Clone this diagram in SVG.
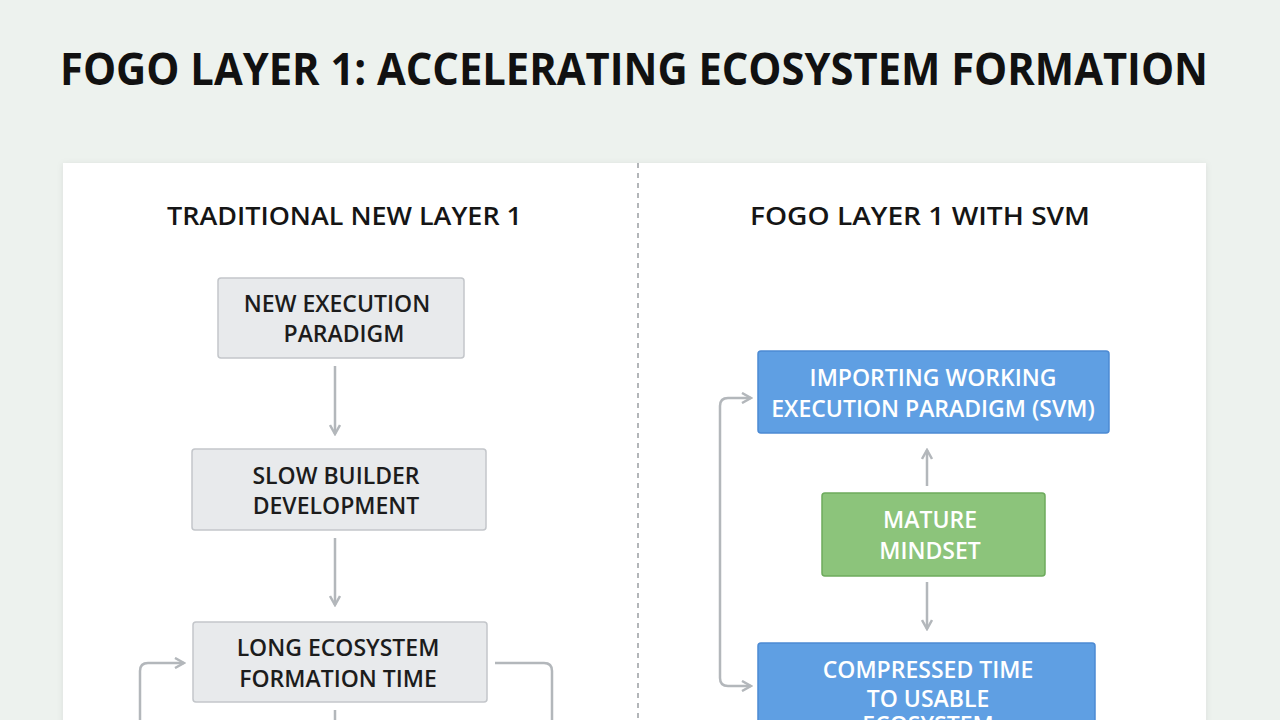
<svg xmlns="http://www.w3.org/2000/svg" width="1280" height="720" viewBox="0 0 1280 720">
<defs>
<style>
.title{font-family:"Open Sans","Liberation Sans",sans-serif;font-weight:700;font-size:44px;fill:#111}
.head{font-family:"Open Sans","Liberation Sans",sans-serif;font-weight:600;font-size:25px;fill:#151515}
.lbl{font-family:"Open Sans","Liberation Sans",sans-serif;font-weight:600;font-size:23px;text-anchor:middle}
.dark{fill:#1c1c1c}
.light{fill:#ffffff}
.gray{fill:#e8eaec;stroke:#c3c6ca;stroke-width:1.5}
.blue{fill:#5f9fe3;stroke:#4c8ad3;stroke-width:1.5}
.green{fill:#8cc47b;stroke:#6dab5c;stroke-width:1.5}
.conn{fill:none;stroke:#b3b7bb;stroke-width:2.5}
</style>
<marker id="ah" viewBox="0 0 12 12" refX="10" refY="6" markerWidth="12" markerHeight="12" markerUnits="userSpaceOnUse" orient="auto-start-reverse">
<path d="M1,1 L10,6 L1,11" fill="none" stroke="#b3b7bb" stroke-width="2.5"/>
</marker>
<filter id="sh" x="-5%" y="-5%" width="110%" height="110%">
<feDropShadow dx="0" dy="1" stdDeviation="3" flood-color="#000" flood-opacity="0.08"/>
</filter>
</defs>
<rect x="0" y="0" width="1280" height="720" fill="#edf2ee"/>
<text class="title" x="60" y="85" textLength="1148" lengthAdjust="spacingAndGlyphs">FOGO LAYER 1: ACCELERATING ECOSYSTEM FORMATION</text>
<rect x="63" y="163" width="1143" height="600" fill="#ffffff" filter="url(#sh)"/>
<line x1="638" y1="163" x2="638" y2="720" stroke="#9a9ea2" stroke-width="1.5" stroke-dasharray="5,5"/>
<text class="head" x="167" y="225" textLength="355" lengthAdjust="spacingAndGlyphs">TRADITIONAL NEW LAYER 1</text>
<text class="head" x="750" y="225" textLength="340" lengthAdjust="spacingAndGlyphs">FOGO LAYER 1 WITH SVM</text>
<g id="connectors">
<path class="conn" d="M335,366 V434" marker-end="url(#ah)"/>
<path class="conn" d="M335,538 V605" marker-end="url(#ah)"/>
<path class="conn" d="M140,720 V671 Q140,663 148,663 H184" marker-end="url(#ah)"/>
<path class="conn" d="M495,663 H544 Q552,663 552,671 V720"/>
<path class="conn" d="M335,710 V720"/>
<path class="conn" d="M927,486 V450" marker-end="url(#ah)"/>
<path class="conn" d="M927,582 V629" marker-end="url(#ah)"/>
<path class="conn" d="M751,398 H728 Q720,398 720,406 V678 Q720,686 728,686 H751" marker-start="url(#ah)" marker-end="url(#ah)"/>
</g>
<g id="node-new-execution">
<rect class="gray" x="218" y="278" width="246" height="80" rx="3"/>
<text class="lbl dark" x="337" y="312">NEW EXECUTION</text>
<text class="lbl dark" x="344" y="342">PARADIGM</text>
</g>
<g id="node-slow-builder">
<rect class="gray" x="192" y="449" width="294" height="81" rx="3"/>
<text class="lbl dark" x="336" y="484">SLOW BUILDER</text>
<text class="lbl dark" x="336" y="514">DEVELOPMENT</text>
</g>
<g id="node-long-ecosystem">
<rect class="gray" x="193" y="622" width="294" height="80" rx="3"/>
<text class="lbl dark" x="338" y="656">LONG ECOSYSTEM</text>
<text class="lbl dark" x="338" y="687">FORMATION TIME</text>
</g>
<g id="node-importing">
<rect class="blue" x="758" y="351" width="351" height="82" rx="3"/>
<text class="lbl light" x="933" y="386">IMPORTING WORKING</text>
<text class="lbl light" x="933" y="417">EXECUTION PARADIGM (SVM)</text>
</g>
<g id="node-mature">
<rect class="green" x="822" y="493" width="223" height="83" rx="3"/>
<text class="lbl light" x="930" y="528">MATURE</text>
<text class="lbl light" x="930" y="559">MINDSET</text>
</g>
<g id="node-compressed">
<rect class="blue" x="758" y="643" width="337" height="120" rx="3"/>
<text class="lbl light" x="928" y="678">COMPRESSED TIME</text>
<text class="lbl light" x="928" y="707">TO USABLE</text>
<text class="lbl light" x="928" y="733">ECOSYSTEM</text>
</g>
</svg>
